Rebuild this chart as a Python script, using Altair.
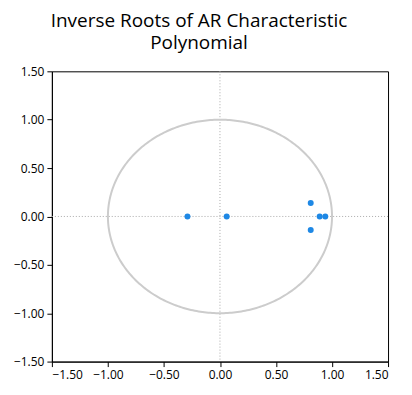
import altair as alt
import pandas as pd

re_vals = [-0.29, 0.06, 0.81, 0.81, 0.89, 0.94]
im_vals = [0.0, 0.0, 0.14, -0.14, 0.0, 0.0]
ticks = [-1.5, -1.0, -0.5, 0.0, 0.5, 1.0, 1.5]

pts = pd.DataFrame({"re": re_vals, "im": im_vals})
FONT = "Open Sans"

xs = alt.Scale(domain=[-1.5, 1.5], nice=False, zero=False)
ys = alt.Scale(domain=[-1.5, 1.5], nice=False, zero=False)

xax = alt.Axis(values=ticks, format=".2f", grid=False, title=None, domainColor="black",
               tickColor="black", labelColor="black", labelFontSize=12, labelFont=FONT,
               tickSize=5, labelPadding=3)
yax = alt.Axis(values=ticks, format=".2f", grid=False, title=None, domainColor="black",
               tickColor="black", labelColor="black", labelFontSize=12, labelFont=FONT,
               tickSize=5, labelPadding=3)

circle = alt.Chart(alt.sequence(0, 361, 1, as_="deg")).transform_calculate(
    cx="cos(datum.deg * PI / 180)", cy="sin(datum.deg * PI / 180)"
).mark_line(color="#cccccc", strokeWidth=2).encode(
    x=alt.X("cx:Q", scale=xs, axis=xax),
    y=alt.Y("cy:Q", scale=ys, axis=yax),
    order="deg:Q",
)

zero = pd.DataFrame({"z": [0.0]})
hline = alt.Chart(zero).mark_rule(color="#aaaaaa", strokeDash=[1, 2], strokeWidth=1).encode(
    y=alt.Y("z:Q", scale=ys)
)
vline = alt.Chart(zero).mark_rule(color="#aaaaaa", strokeDash=[1, 2], strokeWidth=1).encode(
    x=alt.X("z:Q", scale=xs)
)

points = alt.Chart(pts).mark_circle(color="#1E88E5", size=36, opacity=1).encode(
    x=alt.X("re:Q", scale=xs),
    y=alt.Y("im:Q", scale=ys),
)

chart = alt.layer(vline, hline, circle, points).properties(
    width=337, height=291,
    autosize=alt.AutoSizeParams(type="none"),
    padding={"left": 44, "top": 63, "right": 16, "bottom": 26},
    title=alt.Title(["Inverse Roots of AR Characteristic", "Polynomial"], fontSize=19,
                    font=FONT, fontWeight="normal", color="black", anchor="middle",
                    dx=-21, offset=12, lineHeight=22),
).configure_view(stroke="black", strokeWidth=1)

chart.save("out.html", embed_options={"renderer": "svg", "actions": False})
